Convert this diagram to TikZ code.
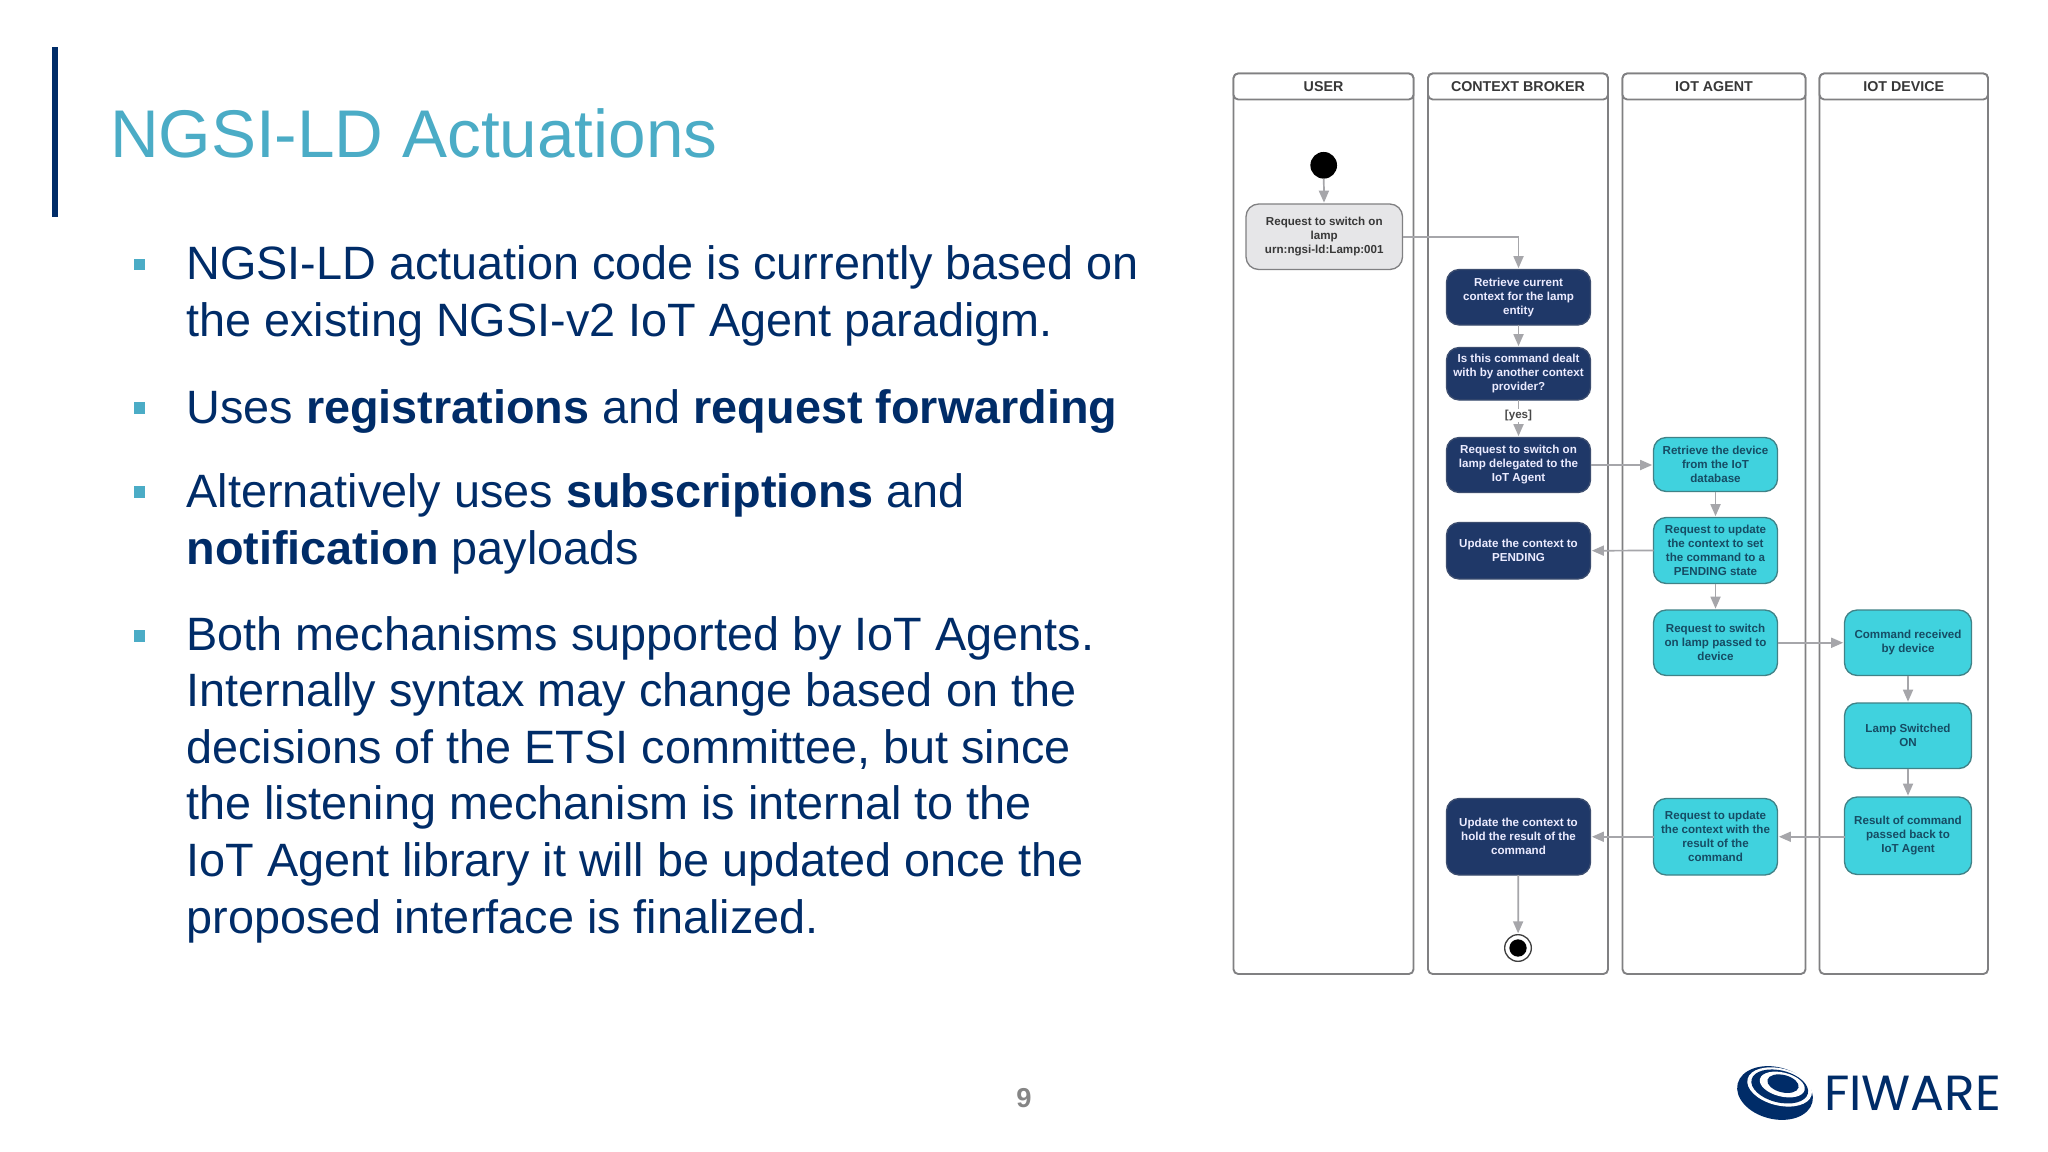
\documentclass[tikz,border=0pt]{standalone}
\usepackage{fontspec}
\setmainfont{Liberation Sans}[Kerning=Off]
\newfontfamily\logofont{Poppins}
\usetikzlibrary{arrows.meta,calc}
\definecolor{navy}{RGB}{0,44,104}
\definecolor{teal}{RGB}{75,172,198}
\definecolor{lanec}{RGB}{128,128,130}
\definecolor{flow}{RGB}{166,166,170}
\definecolor{darkbox}{RGB}{31,56,104}
\definecolor{cyanbox}{RGB}{64,210,222}
\definecolor{cyantext}{RGB}{22,76,100}
\definecolor{graybox}{RGB}{230,230,232}
\newcommand{\pxbox}[7]{%
  \pgfmathsetmacro{\bw}{(#5-#3)*0.75}%
  \pgfmathsetmacro{\bh}{(#6-#4)*0.75}%
  \node[#2,minimum width=\bw pt,minimum height=\bh pt] (#1) at ({(#3+#5)/2},{(#4+#6)/2}) {#7};}
\tikzset{
  x=0.75pt,y=-0.75pt,
  every node/.style={inner sep=0pt,outer sep=0pt},
  lanebody/.style={draw=lanec,line width=1.4pt,rounded corners=3.5pt,fill=white},
  lanehead/.style={draw=lanec,line width=1.4pt,rounded corners=3.5pt,fill=white,text=black!78,font=\bfseries\fontsize{10.7pt}{12pt}\selectfont},
  activity/.style={rounded corners=9.5pt,align=center,line width=1pt,font=\bfseries\fontsize{8.7pt}{10.5pt}\selectfont},
  darkact/.style={activity,draw=darkbox!70!gray,fill=darkbox,text=white!92!blue},
  cyanact/.style={activity,draw=cyanbox!45!darkgray,fill=cyanbox,text=cyantext},
  grayact/.style={activity,draw=lanec,fill=graybox,text=black!78},
  flowline/.style={draw=flow,line width=1.3pt,-{Triangle[length=9pt,width=7.5pt]},shorten >=1pt},
  bodytext/.style={anchor=base west,align=left,text=navy,font=\fontsize{35.1pt}{42.45pt}\selectfont},
  bulletmark/.style={fill=teal,minimum size=8.7pt},
}
\begin{document}
\begin{tikzpicture}
\useasboundingbox (0,0) rectangle (2048,1152);
\fill[white] (0,0) rectangle (2048,1152);
% title
\fill[navy] (51.5,47) rectangle (58,217);
\node[anchor=base west,text=teal,font=\fontsize{50.6pt}{60pt}\selectfont] (title) at (110,157) {NGSI-LD Actuations};
% bullets
\node[bulletmark] (b1) at (139.5,264.5) {};
\node[bulletmark] (b2) at (139.5,408) {};
\node[bulletmark] (b3) at (139.5,492) {};
\node[bulletmark] (b4) at (139.5,636) {};
\node[bodytext] (p1) at (186.5,336) {NGSI-LD actuation code is currently based on\\the existing NGSI-v2 IoT Agent paradigm.};
\node[bodytext] (p2) at (186.5,423) {Uses \textbf{registrations} and \textbf{request forwarding}};
\node[bodytext] (p3) at (186.5,564) {Alternatively uses \textbf{subscriptions} and\\\textbf{notification} payloads};
\node[bodytext] (p4) at (186.5,933) {Both mechanisms supported by IoT Agents.\\Internally syntax may change based on the\\decisions of the ETSI committee, but since\\the listening mechanism is internal to the\\IoT Agent library it will be updated once the\\proposed interface is finalized.};
% lanes
\pxbox{laneU}{lanebody}{1233.5}{73.5}{1413.5}{974}{}
\pxbox{laneC}{lanebody}{1428}{73.5}{1608}{974}{}
\pxbox{laneA}{lanebody}{1622.5}{73.5}{1805.5}{974}{}
\pxbox{laneD}{lanebody}{1819.5}{73.5}{1988}{974}{}
\pxbox{headU}{lanehead}{1233.5}{73.5}{1413.5}{99.5}{USER}
\pxbox{headC}{lanehead}{1428}{73.5}{1608}{99.5}{CONTEXT BROKER}
\pxbox{headA}{lanehead}{1622.5}{73.5}{1805.5}{99.5}{IOT AGENT}
\pxbox{headD}{lanehead}{1819.5}{73.5}{1988}{99.5}{IOT DEVICE}
% start and end
\node[circle,fill=black,minimum size=20pt] (start) at (1323.7,165.3) {};
\node[circle,draw=black!75,line width=1pt,fill=white,minimum size=20pt] (finish) at (1518,948) {};
\node[circle,fill=black,minimum size=13pt] (finishdot) at (1518,948) {};
% activities
\pxbox{req}{grayact}{1246}{204}{1402.5}{269.5}{Request to switch on\\lamp\\urn:ngsi-ld:Lamp:001}
\pxbox{ret}{darkact}{1446.5}{269.5}{1590.5}{325}{Retrieve current\\context for the lamp\\entity}
\pxbox{dealt}{darkact}{1446.5}{347.5}{1590.5}{400}{Is this command dealt\\with by another context\\provider?}
\pxbox{deleg}{darkact}{1446.5}{437.5}{1590.5}{492.5}{Request to switch on\\lamp delegated to the\\IoT Agent}
\pxbox{pend}{darkact}{1446.5}{522.5}{1590.5}{579}{Update the context to\\PENDING}
\pxbox{upctx}{darkact}{1446.5}{798.5}{1590.5}{875}{Update the context to\\hold the result of the\\command}
\pxbox{retdev}{cyanact}{1653.5}{437.5}{1777.5}{491.5}{Retrieve the device\\from the IoT\\database}
\pxbox{setpend}{cyanact}{1653.5}{517.5}{1777.5}{583.5}{Request to update\\the context to set\\the command to a\\PENDING state}
\pxbox{pass}{cyanact}{1653.5}{610}{1777.5}{675.5}{Request to switch\\on lamp passed to\\device}
\pxbox{upres}{cyanact}{1653.5}{798.5}{1777.5}{875}{Request to update\\the context with the\\result of the\\command}
\pxbox{cmd}{cyanact}{1844.5}{610}{1971.5}{675.5}{Command received\\by device}
\pxbox{lamp}{cyanact}{1844.5}{703}{1971.5}{768.5}{Lamp Switched\\ON}
\pxbox{res}{cyanact}{1844.5}{797}{1971.5}{874.5}{Result of command\\passed back to\\IoT Agent}
% connectors
\draw[flowline] (start) -- (req);
\draw[flowline] (req.east) -| (ret.north);
\draw[flowline] (ret) -- (dealt);
\draw[flowline] (dealt) -- node[pos=0.42,fill=white,inner xsep=1pt,inner ysep=1pt,text=black!72,font=\bfseries\fontsize{8.7pt}{10.5pt}\selectfont] (yes) {[yes]} (deleg);
\draw[flowline] (deleg) -- (deleg -| retdev.west);
\draw[flowline] (retdev) -- (setpend);
\draw[flowline] (setpend) -- (pend);
\draw[flowline] (setpend) -- (pass);
\draw[flowline] (pass) -- (cmd);
\draw[flowline] (cmd) -- (lamp);
\draw[flowline] (lamp) -- (res);
\draw[flowline] (res.west |- upres.west) -- (upres);
\draw[flowline] (upres) -- (upctx);
\draw[flowline] (upctx) -- (finish);
% page number
\node[text=black!48,font=\bfseries\fontsize{20.5pt}{24pt}\selectfont] (pagenum) at (1024,1098) {9};
% logo
\begin{scope}[shift={(1775,1093)},rotate=-14]
\fill[navy] (0,0) ellipse [x radius=38.5,y radius=26];
\fill[white] (3,-7) ellipse [x radius=33,y radius=18.5];
\fill[navy] (3,-7.5) ellipse [x radius=29,y radius=16];
\fill[white] (5,-10) ellipse [x radius=23,y radius=12];
\fill[navy] (5.5,-11) ellipse [x radius=16,y radius=8.7];
\end{scope}
\node[anchor=base west,text=navy,font=\logofont\fontsize{37pt}{40pt}\selectfont] (logotext) at (1824,1110.5) {\scalebox{1.02}[1.0]{FIWARE}};
\end{tikzpicture}
\end{document}
